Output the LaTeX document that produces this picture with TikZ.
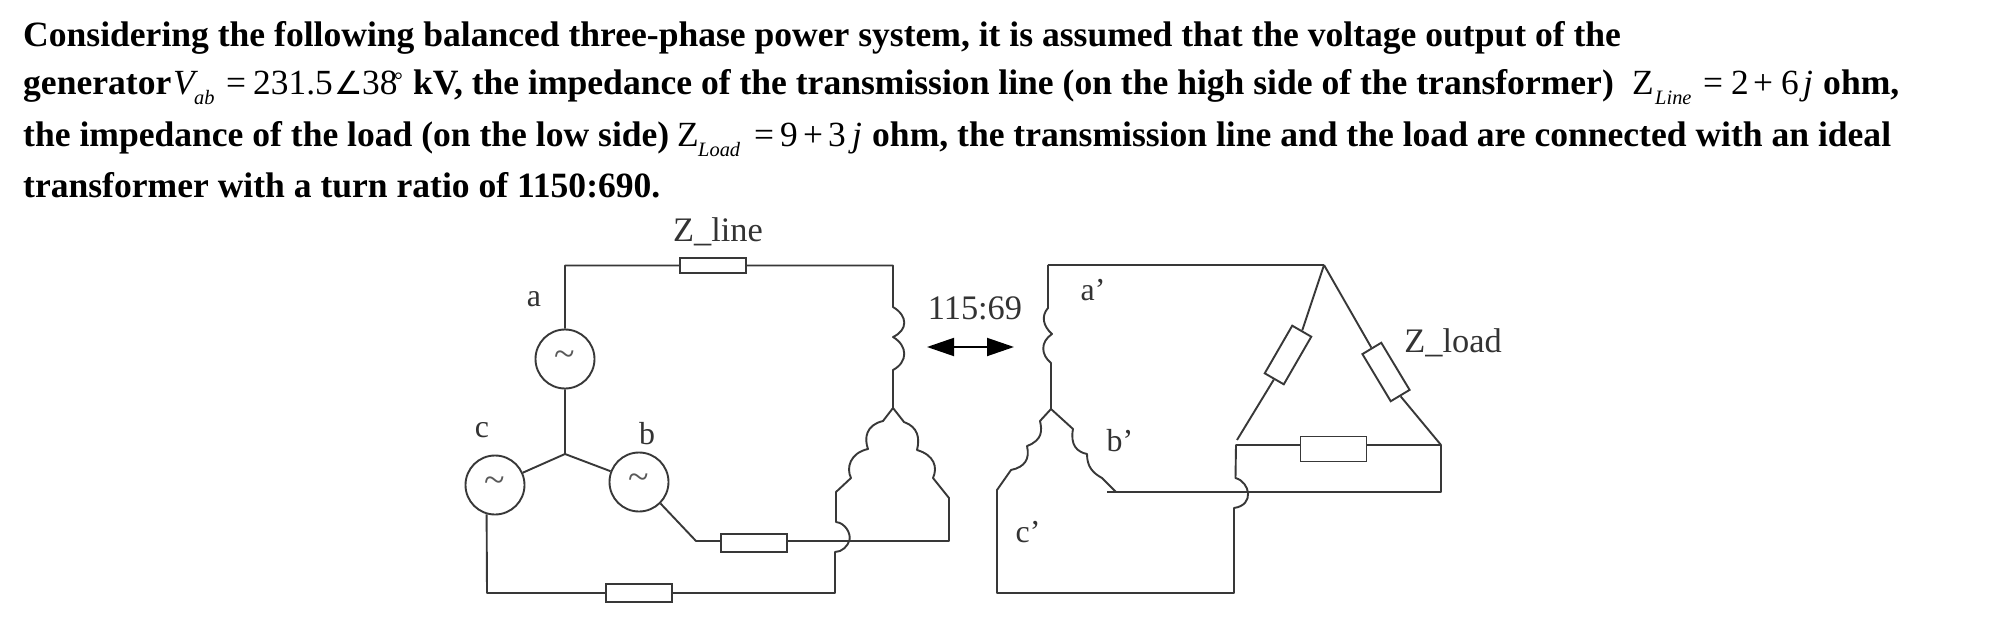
\documentclass[tikz,border=0pt]{standalone}
\usepackage{fontspec}
\setmainfont{Liberation Serif}
\newfontfamily\symfont{DejaVu Sans}
\usetikzlibrary{arrows.meta}
\definecolor{wire}{gray}{0.22}
\tikzset{
  wirel/.style={draw=wire,line width=1.9bp,line join=round},
  resbox/.style={rectangle,draw=wire,line width=1.9bp,fill=white,inner sep=0pt,minimum width=#1},
  gen/.style={circle,draw=wire,line width=1.9bp,fill=white,inner sep=0pt,minimum size=59bp,font=\fontsize{38}{38}\selectfont,text=black!65},
  lab/.style={inner sep=0pt,text=black!80,font=\fontsize{32}{32}\selectfont},
  labw/.style={inner sep=0pt,text=black!80,font=\fontsize{34.5}{34.5}\selectfont},
  txt/.style={anchor=base west,inner sep=0pt,font=\fontsize{35.7}{35.7}\selectfont\bfseries},
  reg/.style={anchor=base west,inner sep=0pt,font=\fontsize{35.5}{35.5}\selectfont},
  ital/.style={anchor=base west,inner sep=0pt,font=\fontsize{35.5}{35.5}\selectfont\itshape},
  sub/.style={anchor=base west,inner sep=0pt,font=\fontsize{20.5}{20.5}\selectfont\itshape},
  sym/.style={anchor=base west,inner sep=0pt,font=\fontsize{32}{32}\selectfont\symfont},
  deg/.style={anchor=base west,inner sep=0pt,font=\fontsize{22}{22}\selectfont},
}
\begin{document}
\begin{tikzpicture}[x=1bp,y=-1bp]
\useasboundingbox (0,0) rectangle (2014,630);
\fill[white] (0,0) rectangle (2014,630);
% text
\node[txt] (l1) at (23,46.5) {Considering the following balanced three-phase power system, it is assumed that the voltage output of the};
\node[txt] (l2a) at (23,94.5) {generator};
\node[ital] (l2v) at (173,94.5) {V};
\node[sub] (l2s) at (194,104.5) {ab};
\node[reg] (l2b) at (226,94.5) {=};
\node[reg] (l2c) at (253,94.5) {231.5};
\node[sym] (l2f) at (334,94.5) {∠};
\node[reg] (l2g) at (362,94.5) {38};
\node[deg] (l2o) at (394,88) {\textdegree};
\node[txt] (l2h) at (413,94.5) {kV, the impedance of the transmission line (on the high side of the transformer)};
\node[reg] (l2z) at (1632,94.5) {Z};
\node[sub] (l2t) at (1655,104.5) {Line};
\node[reg] (l2d) at (1703,94.5) {=};
\node[reg] (l2i) at (1731,94.5) {2};
\node[reg] (l2j) at (1753,94.5) {+};
\node[reg] (l2k) at (1781,94.5) {6};
\node[ital] (l2l) at (1803,94.5) {j};
\node[txt] (l2e) at (1823,94.5) {ohm,};
\node[txt] (l3a) at (23,146.5) {the impedance of the load (on the low side)};
\node[reg] (l3z) at (677,146.5) {Z};
\node[sub] (l3s) at (698,156.5) {Load};
\node[reg] (l3b) at (754,146.5) {=};
\node[reg] (l3d) at (780,146.5) {9};
\node[reg] (l3e) at (803,146.5) {+};
\node[reg] (l3f) at (828,146.5) {3};
\node[ital] (l3g) at (852,146.5) {j};
\node[txt] (l3c) at (872,146.5) {ohm, the transmission line and the load are connected with an ideal};
\node[txt] (l4) at (23,198) {transformer with a turn ratio of 1150:690.};
% generators
\node[gen] (ga) at (565,359) {\textasciitilde};
\node[gen] (gc) at (495,485) {\textasciitilde};
\node[gen] (gb) at (639,482) {\textasciitilde};
\coordinate (n) at (565,454);
\coordinate (tl) at (565,265.5);
\coordinate (tr) at (893,265.5);
\coordinate (c1a) at (893,307);
\coordinate (c1b) at (893,337);
\coordinate (c1c) at (893,370);
\coordinate (pj) at (893,408);
\coordinate (bk) at (696,541);
\coordinate (pbr) at (949,541);
\coordinate (pr) at (949,498);
\coordinate (cl) at (487,593);
\coordinate (cr) at (835,593);
\coordinate (pl) at (836,492);
% primary
\draw[wirel] (ga) -- (n) -- (gc);
\draw[wirel] (n) -- (gb);
\draw[wirel] (ga) -- (tl) -- (tr) -- (c1a)
  .. controls (908,316) and (908,330) .. (c1b)
  .. controls (908,346) and (908,362) .. (c1c) -- (pj);
\draw[wirel] (pj) -- (883,421)
  .. controls (866,425) and (864,438) .. (868,449)
  .. controls (850,453) and (846,468) .. (851,478)
  -- (pl) -- (836,522)
  .. controls (845,523) and (851,533) .. (849.5,540)
  .. controls (848,546) and (842,552) .. (835,552) -- (cr) -- (cl) -- (gc.-106);
\draw[wirel] (pj) -- (904,422)
  .. controls (918,427) and (920,438) .. (917,450)
  .. controls (934,455) and (938,467) .. (933,478)
  -- (pr) -- (pbr) -- (bk) -- (gb.-45);
\node[resbox=66bp,minimum height=15bp] (zl1) at (713,265.5) {};
\node[resbox=66bp,minimum height=18bp] (zl2) at (754,543) {};
\node[resbox=66bp,minimum height=18bp] (zl3) at (639,593) {};
% secondary
\coordinate (st) at (1324,265);
\coordinate (stl) at (1048,265);
\coordinate (sj) at (1051,409);
\coordinate (sl) at (997,490);
\coordinate (sbl) at (997,593);
\coordinate (sbr) at (1234,593);
\coordinate (sbs) at (1107,492);
\coordinate (sre) at (1441,492);
\coordinate (tc) at (1441,445);
\coordinate (tb) at (1236,445);
\coordinate (tbl) at (1237,440);
\draw[wirel] (stl) -- (st);
\draw[wirel] (stl) -- (1048,308)
  .. controls (1041,316) and (1043,326) .. (1052,334)
  .. controls (1040,342) and (1041,355) .. (1051,363) -- (sj);
\draw[wirel] (sj) -- (1040,421)
  .. controls (1042,430) and (1043,440) .. (1027,446)
  .. controls (1030,459) and (1025,467) .. (1011,470)
  -- (sl) -- (sbl) -- (sbr) -- (1234,508)
  .. controls (1255,505) and (1250,482) .. (1235.5,478) -- (tb) -- (tc) -- (sre) -- (sbs);
\draw[wirel] (sj) -- (1073,429)
  .. controls (1070,445) and (1077,452) .. (1087,454)
  .. controls (1087,467) and (1093,473) .. (1102,478) -- (1116,492);
\node[resbox=66bp,minimum height=25bp] (zl4) at (1333.5,449) {};
\node[resbox=55bp,minimum height=22bp,rotate=60] (zl5) at (1288,355) {};
\node[resbox=55bp,minimum height=22bp,rotate=-59] (zl6) at (1386,372) {};
\draw[wirel] (st) -- (zl5.east);
\draw[wirel] (zl5.west) -- (tbl);
\draw[wirel] (st) -- (zl6.west);
\draw[wirel] (zl6.east) -- (tc);
% arrow
\coordinate (al) at (927,347);
\coordinate (ar) at (1014,347);
\draw[black,line width=1.9bp,{Triangle[length=27bp,width=18bp]}-{Triangle[length=27bp,width=18bp]}] (al) -- (ar);
% labels
\node[lab] (la) at (534,299) {a};
\node[lab] (lb) at (647,434) {b};
\node[lab] (lc) at (482,430) {c};
\node[lab] (lap) at (1093,290) {a’};
\node[lab] (lbp) at (1120,441) {b’};
\node[lab] (lcp) at (1028,532) {c’};
\node[labw] (lr) at (975,308) {115:69};
\node[labw] (lz) at (718,232) {Z\_line};
\node[labw] (lzl) at (1453,343) {Z\_load};
\end{tikzpicture}
\end{document}
